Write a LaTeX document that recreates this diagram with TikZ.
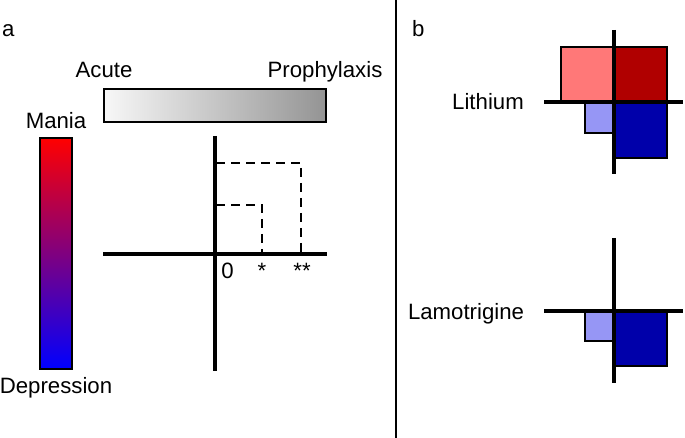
\documentclass[tikz,border=0pt]{standalone}
\usepackage{fontspec}
\setmainfont{Liberation Sans}
\begin{document}
\begin{tikzpicture}[x=1pt,y=-1pt,
  lbl/.style={font=\fontsize{22.2}{25}\selectfont, inner sep=0, anchor=base},
  axis/.style={line width=3.5pt},
  box/.style={draw=black, line width=1.1pt},
  guide/.style={dash pattern=on 9pt off 6pt, line width=1.8pt}]
\useasboundingbox (0,0) rectangle (685,438);
% divider
\coordinate (dtop) at (396,0);
\coordinate (dbot) at (396,438);
\draw[line width=1.5pt] (dtop) -- (dbot);
% panel a
\node[lbl, anchor=base west] (la) at (2,37) {a};
\node[lbl] (acute) at (104,78) {Acute};
\node[lbl] (proph) at (325,78) {Prophylaxis};
\shade[left color=black!3, right color=black!42] (104,89) rectangle (326,122);
\draw[box] (104,89) rectangle (326,122);
\node[lbl] (mania) at (56,129) {Mania};
\shade[top color=red, bottom color=blue] (40,138) rectangle (72,369);
\draw[box] (40,138) rectangle (72,369);
\node[lbl] (dep) at (56,393) {Depression};
% axes a
\coordinate (ay1) at (215,136);
\coordinate (ay2) at (215,371);
\coordinate (ax1) at (103,254);
\coordinate (ax2) at (327,254);
\draw[axis] (ay1) -- (ay2);
\draw[axis] (ax1) -- (ax2);
\coordinate (d1a) at (216,205);
\coordinate (d1b) at (262,205);
\coordinate (d1c) at (262,254);
\coordinate (d2a) at (216,163);
\coordinate (d2b) at (301,163);
\coordinate (d2c) at (301,254);
\draw[guide] (d1a) -- (d1b) -- (d1c);
\draw[guide] (d2a) -- (d2b) -- (d2c);
\node[lbl] (zero) at (227.5,279) {0};
\node[lbl] (s1) at (262,279) {*};
\node[lbl] (s2) at (302,279) {**};
% panel b
\node[lbl, anchor=base west] (lb) at (412,37) {b};
% Lithium
\fill[fill={rgb,255:red,255;green,120;blue,120}, draw=black, line width=1.1pt] (561,47) rectangle (614,102);
\fill[fill={rgb,255:red,176;green,0;blue,0}, draw=black, line width=1.1pt] (614,47) rectangle (667,102);
\fill[fill={rgb,255:red,150;green,150;blue,245}, draw=black, line width=1.1pt] (585,102) rectangle (614,133);
\fill[fill={rgb,255:red,0;green,0;blue,170}, draw=black, line width=1.1pt] (614,102) rectangle (667,158);
\coordinate (ly1) at (614,30);
\coordinate (ly2) at (614,174);
\coordinate (lx1) at (544,102);
\coordinate (lx2) at (683,102);
\draw[axis] (ly1) -- (ly2);
\draw[axis] (lx1) -- (lx2);
\node[lbl] (lith) at (488,110) {Lithium};
% Lamotrigine
\fill[fill={rgb,255:red,150;green,150;blue,245}, draw=black, line width=1.1pt] (585,311) rectangle (614,341);
\fill[fill={rgb,255:red,0;green,0;blue,170}, draw=black, line width=1.1pt] (614,311) rectangle (667,366);
\coordinate (my1) at (614,238);
\coordinate (my2) at (614,383);
\coordinate (mx1) at (544,311);
\coordinate (mx2) at (683,311);
\draw[axis] (my1) -- (my2);
\draw[axis] (mx1) -- (mx2);
\node[lbl] (lamo) at (466,319) {Lamotrigine};
\end{tikzpicture}
\end{document}
